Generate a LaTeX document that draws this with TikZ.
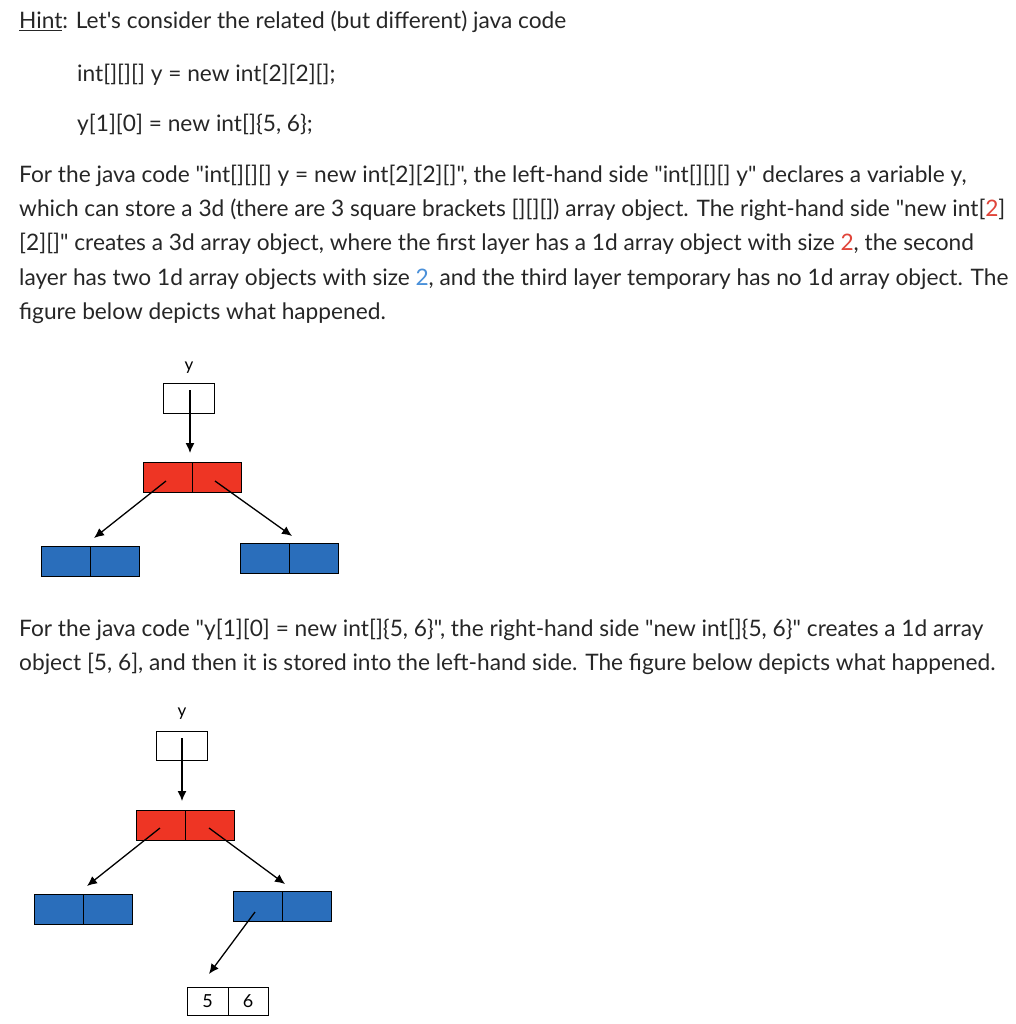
\documentclass[tikz,border=0pt]{standalone}
\usetikzlibrary{arrows.meta}
\usepackage{fontspec}
\setmainfont{Lato}[Ligatures=TeXOff]
\definecolor{tred}{HTML}{E0453A}
\definecolor{tblue}{HTML}{4A90D9}
\definecolor{arrred}{HTML}{EE3524}
\definecolor{arrblue}{HTML}{2A6EBB}
\begin{document}
\begin{tikzpicture}[x=1pt,y=-1pt,
  txt/.style={anchor=base west,inner sep=0pt,font=\fontsize{22.7}{26}\selectfont,text=black!85},
  half/.style={draw=black,minimum width=49pt,minimum height=30pt,inner sep=0pt},
  ptr/.style={draw=black,line width=1.3pt,-{Latex[length=10pt,width=9pt]}},
  lab/.style={inner sep=0pt,font=\fontsize{17}{20}\selectfont}]
\useasboundingbox (0,0) rectangle (1015,1024);
\node[txt] (t1) at (19,29) {\underline{Hint}: Let's consider the related (but different) java code};
\node[txt] (t2) at (77,82) {int[][][] y = new int[2][2][];};
\node[txt] (t3) at (77,132) {y[1][0] = new int[]\{5, 6\};};
\node[txt] (t4) at (19,183) {For the java code "int[][][] y = new int[2][2][]", the left-hand side "int[][][] y" declares a variable y,};
\node[txt] (t5) at (19,217) {which can store a 3d (there are 3 square brackets [][][]) array object. The right-hand side "new int[\textcolor{tred}{2}]};
\node[txt] (t6) at (19,251) {[2][]" creates a 3d array object, where the first layer has a 1d array object with size \textcolor{tred}{2}, the second};
\node[txt] (t7) at (19,285) {layer has two 1d array objects with size \textcolor{tblue}{2}, and the third layer temporary has no 1d array object. The};
\node[txt] (t8) at (19,319) {figure below depicts what happened.};
\node[txt] (t9) at (19,636) {For the java code "y[1][0] = new int[]\{5, 6\}", the right-hand side "new int[]\{5, 6\}" creates a 1d array};
\node[txt] (t10) at (19,670) {object [5, 6], and then it is stored into the left-hand side. The figure below depicts what happened.};
% diagram 1
\node[lab] (ya) at (189,368) {y};
\node[draw=black,minimum width=51pt,minimum height=30pt,inner sep=0pt] (yb) at (188.5,398) {};
\node[half,fill=arrred] (r1) at (167.5,477) {};
\node[half,fill=arrred] (r2) at (216.5,477) {};
\node[half,fill=arrblue] (l1) at (65.5,561) {};
\node[half,fill=arrblue] (l2) at (114.5,561) {};
\node[half,fill=arrblue] (q1) at (264.5,558) {};
\node[half,fill=arrblue] (q2) at (313.5,558) {};
\coordinate (s0) at (190,390); \coordinate (s1) at (166,481); \coordinate (s2) at (215,481);
\coordinate (e0) at (190,453); \coordinate (e1) at (94,538); \coordinate (e2) at (292,536);
\draw[ptr] (s0) -- (e0);
\draw[ptr] (s1) -- (e1);
\draw[ptr] (s2) -- (e2);
% diagram 2
\node[lab] (yc) at (182,714) {y};
\node[draw=black,minimum width=51pt,minimum height=29pt,inner sep=0pt] (yd) at (181.5,745.5) {};
\node[half,fill=arrred] (r3) at (160.5,825) {};
\node[half,fill=arrred] (r4) at (209.5,825) {};
\node[half,fill=arrblue] (l3) at (58.5,909) {};
\node[half,fill=arrblue] (l4) at (107.5,909) {};
\node[half,fill=arrblue] (q3) at (257.5,906) {};
\node[half,fill=arrblue] (q4) at (306.5,906) {};
\node[draw=black,minimum width=40.5pt,minimum height=28pt,inner sep=0pt,font=\fontsize{18}{20}\selectfont] (f5) at (207.5,1001) {5};
\node[draw=black,minimum width=40.5pt,minimum height=28pt,inner sep=0pt,font=\fontsize{18}{20}\selectfont] (f6) at (248,1001) {6};
\coordinate (u0) at (182,738); \coordinate (u1) at (160,828); \coordinate (u2) at (209,828); \coordinate (u3) at (255,912);
\coordinate (v0) at (182,801); \coordinate (v1) at (87,886); \coordinate (v2) at (285,884); \coordinate (v3) at (209,974);
\draw[ptr] (u0) -- (v0);
\draw[ptr] (u1) -- (v1);
\draw[ptr] (u2) -- (v2);
\draw[ptr] (u3) -- (v3);
\end{tikzpicture}
\end{document}
